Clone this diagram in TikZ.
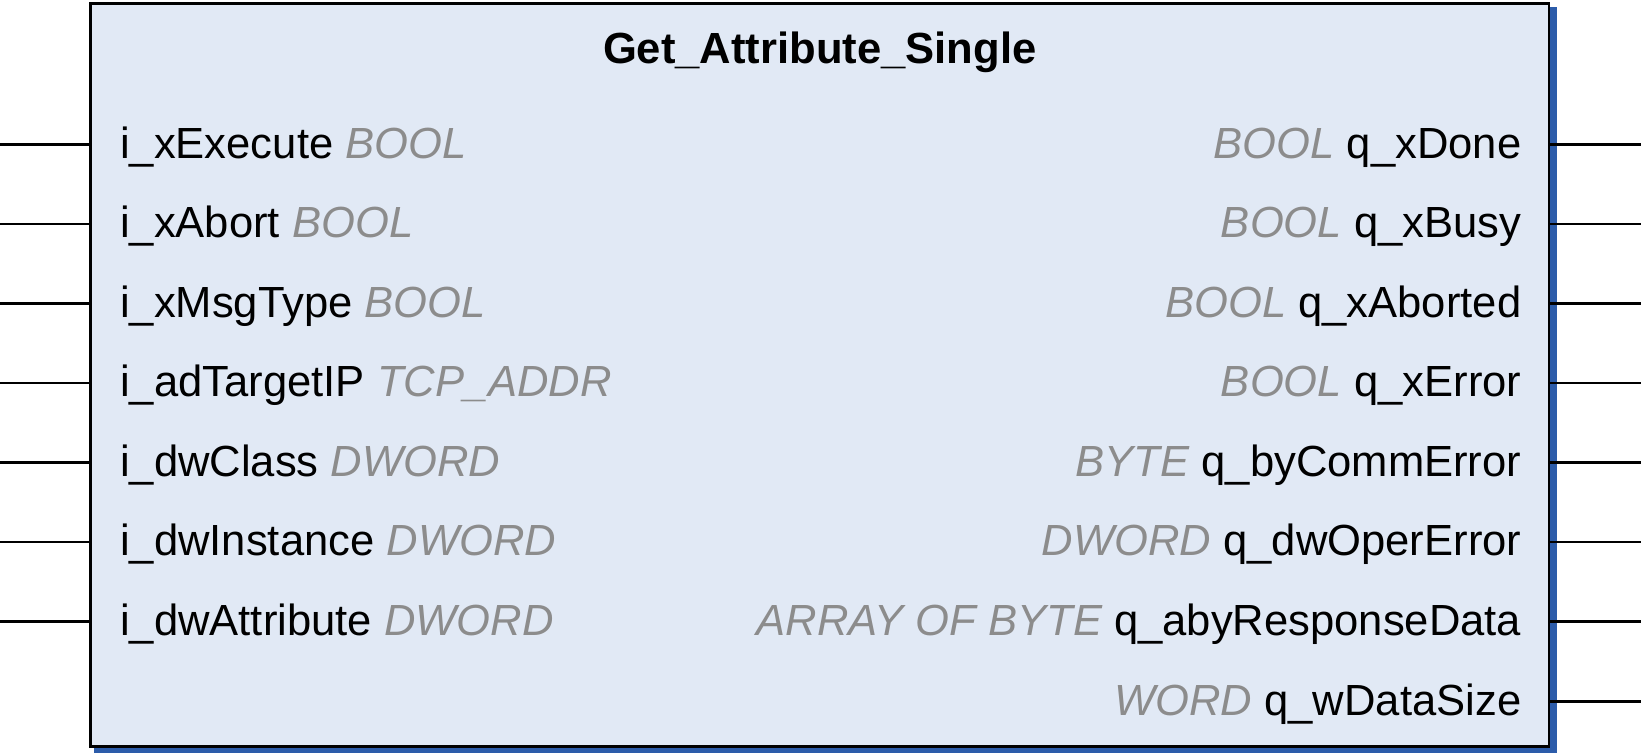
\documentclass[tikz,border=0pt]{standalone}
\usepackage{fontspec}
\setmainfont{Liberation Sans}
\usepackage{xcolor}
\definecolor{fbfill}{RGB}{225,233,245}
\definecolor{fbshadow}{RGB}{44,92,170}
\definecolor{typegray}{RGB}{140,140,140}

\begin{document}
\begin{tikzpicture}[font=\fontsize{12.4}{14}\selectfont]
\useasboundingbox (0,0) rectangle (16.41,7.55);
\fill[fbshadow] (0.943,0.02) rectangle (15.57,7.483);
\node[draw, line width=0.85pt, fill=fbfill, minimum width=14.585cm, minimum height=7.435cm, inner sep=0, outer sep=0, anchor=south west] (fb) at (0.905,0.083) {};
\node[font=\fontsize{12.4}{14}\selectfont\bfseries, anchor=base] (title) at (8.1975,6.913) {Get\_Attribute\_Single};
% inputs
\foreach \y/\n/\t [count=\i] in {6.106/i\_xExecute/BOOL, 5.31/i\_xAbort/BOOL, 4.515/i\_xMsgType/BOOL, 3.72/i\_adTargetIP/TCP\_ADDR, 2.924/i\_dwClass/DWORD, 2.13/i\_dwInstance/DWORD, 1.333/i\_dwAttribute/DWORD} {
\coordinate (in\i) at (0,\y);
\draw[line width=0.75pt] (in\i) -- (fb.west |- in\i);
\node[anchor=base west, inner sep=0] (inlbl\i) at (1.195,\y-0.136) {\n\ \textcolor{typegray}{\itshape\t}};}
% outputs
\foreach \y/\n/\t [count=\i] in {6.106/q\_xDone/BOOL, 5.31/q\_xBusy/BOOL, 4.515/q\_xAborted/BOOL, 3.72/q\_xError/BOOL, 2.924/q\_byCommError/BYTE, 2.13/q\_dwOperError/DWORD, 1.333/q\_abyResponseData/ARRAY OF BYTE, 0.533/q\_wDataSize/WORD} {
\coordinate (out\i) at (16.41,\y);
\draw[line width=0.75pt] (fb.east |- out\i) -- (out\i);
\node[anchor=base east, inner sep=0] (outlbl\i) at (15.22,\y-0.136) {\textcolor{typegray}{\itshape\t}\ \n};}
\end{tikzpicture}
\end{document}
